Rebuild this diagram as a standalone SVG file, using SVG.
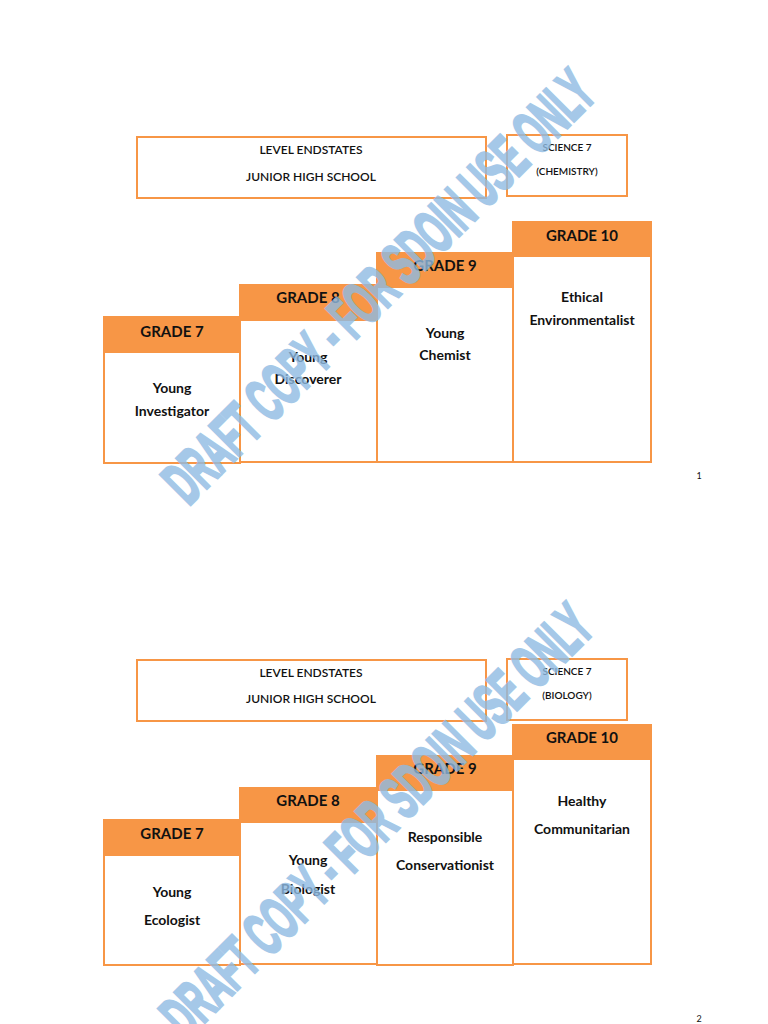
<svg xmlns="http://www.w3.org/2000/svg" width="768" height="1024" viewBox="0 0 768 1024">
<style>
.box{fill:#fff;stroke:#F79646;stroke-width:2}
.hd{fill:#F79646;stroke:#F79646;stroke-width:2}
text{font-family:Lato,"Liberation Sans",sans-serif;fill:#111;text-anchor:middle;dominant-baseline:middle}
.s{font-size:12px;font-weight:600}
.xs{font-size:10px;font-weight:600}
.g{font-size:15px;font-weight:bold}
.b{font-size:14px;font-weight:bold}
.wm{font-family:"Liberation Sans",sans-serif;font-weight:bold;font-size:62px;fill:#8FBBE3;stroke:#8FBBE3;stroke-width:3;opacity:0.8}
.pn{font-size:9px;font-weight:normal}
</style>
<rect width="768" height="1024" fill="#fff"/>
<g id="page1">
<g id="p1-header"><rect class="box" x="137" y="137" width="349" height="61"/><text class="s" x="311" y="151">LEVEL ENDSTATES</text><text class="s" x="311" y="178">JUNIOR HIGH SCHOOL</text></g>
<g id="p1-science"><rect class="box" x="507" y="135" width="120" height="61"/><text class="xs" x="567" y="148">SCIENCE 7</text><text class="xs" x="567" y="172">(CHEMISTRY)</text></g>
<g id="p1-g7"><rect class="box" x="104" y="352" width="136" height="111"/><rect class="hd" x="104" y="317" width="136" height="35"/><text class="g" x="172" y="333">GRADE 7</text><text class="b" x="172" y="389">Young</text><text class="b" x="172" y="412">Investigator</text></g>
<g id="p1-g8"><rect class="box" x="240" y="320" width="137" height="142"/><rect class="hd" x="240" y="285" width="137" height="35"/><text class="g" x="308" y="299">GRADE 8</text><text class="b" x="308" y="358">Young</text><text class="b" x="308" y="380">Discoverer</text></g>
<g id="p1-g9"><rect class="box" x="377" y="287" width="136" height="175"/><rect class="hd" x="377" y="253" width="136" height="34"/><text class="g" x="445" y="267">GRADE 9</text><text class="b" x="445" y="334">Young</text><text class="b" x="445" y="356">Chemist</text></g>
<g id="p1-g10"><rect class="box" x="513" y="256" width="138" height="206"/><rect class="hd" x="513" y="222" width="138" height="34"/><text class="g" x="582" y="237">GRADE 10</text><text class="b" x="582" y="298">Ethical</text><text class="b" x="582" y="321">Environmentalist</text></g>
<text class="pn" x="699" y="477">1</text>
<text class="wm" x="0" y="0" textLength="580" lengthAdjust="spacingAndGlyphs" transform="translate(382,290) rotate(-45)">DRAFT COPY - FOR SDOIN USE ONLY</text>
</g>
<g id="page2">
<g id="p2-header"><rect class="box" x="137" y="660" width="349" height="61"/><text class="s" x="311" y="674">LEVEL ENDSTATES</text><text class="s" x="311" y="700">JUNIOR HIGH SCHOOL</text></g>
<g id="p2-science"><rect class="box" x="507" y="659" width="120" height="61"/><text class="xs" x="567" y="672">SCIENCE 7</text><text class="xs" x="567" y="696">(BIOLOGY)</text></g>
<g id="p2-g7"><rect class="box" x="104" y="855" width="136" height="110"/><rect class="hd" x="104" y="820" width="136" height="35"/><text class="g" x="172" y="835">GRADE 7</text><text class="b" x="172" y="893">Young</text><text class="b" x="172" y="921">Ecologist</text></g>
<g id="p2-g8"><rect class="box" x="240" y="822" width="137" height="142"/><rect class="hd" x="240" y="788" width="137" height="34"/><text class="g" x="308" y="802">GRADE 8</text><text class="b" x="308" y="861">Young</text><text class="b" x="308" y="890">Biologist</text></g>
<g id="p2-g9"><rect class="box" x="377" y="790" width="136" height="175"/><rect class="hd" x="377" y="756" width="136" height="34"/><text class="g" x="445" y="770">GRADE 9</text><text class="b" x="445" y="838">Responsible</text><text class="b" x="445" y="866">Conservationist</text></g>
<g id="p2-g10"><rect class="box" x="513" y="759" width="138" height="205"/><rect class="hd" x="513" y="725" width="138" height="34"/><text class="g" x="582" y="739">GRADE 10</text><text class="b" x="582" y="802">Healthy</text><text class="b" x="582" y="830">Communitarian</text></g>
<text class="pn" x="699" y="1020">2</text>
<text class="wm" x="0" y="0" textLength="580" lengthAdjust="spacingAndGlyphs" transform="translate(380,824) rotate(-45)">DRAFT COPY - FOR SDOIN USE ONLY</text>
</g>
</svg>
